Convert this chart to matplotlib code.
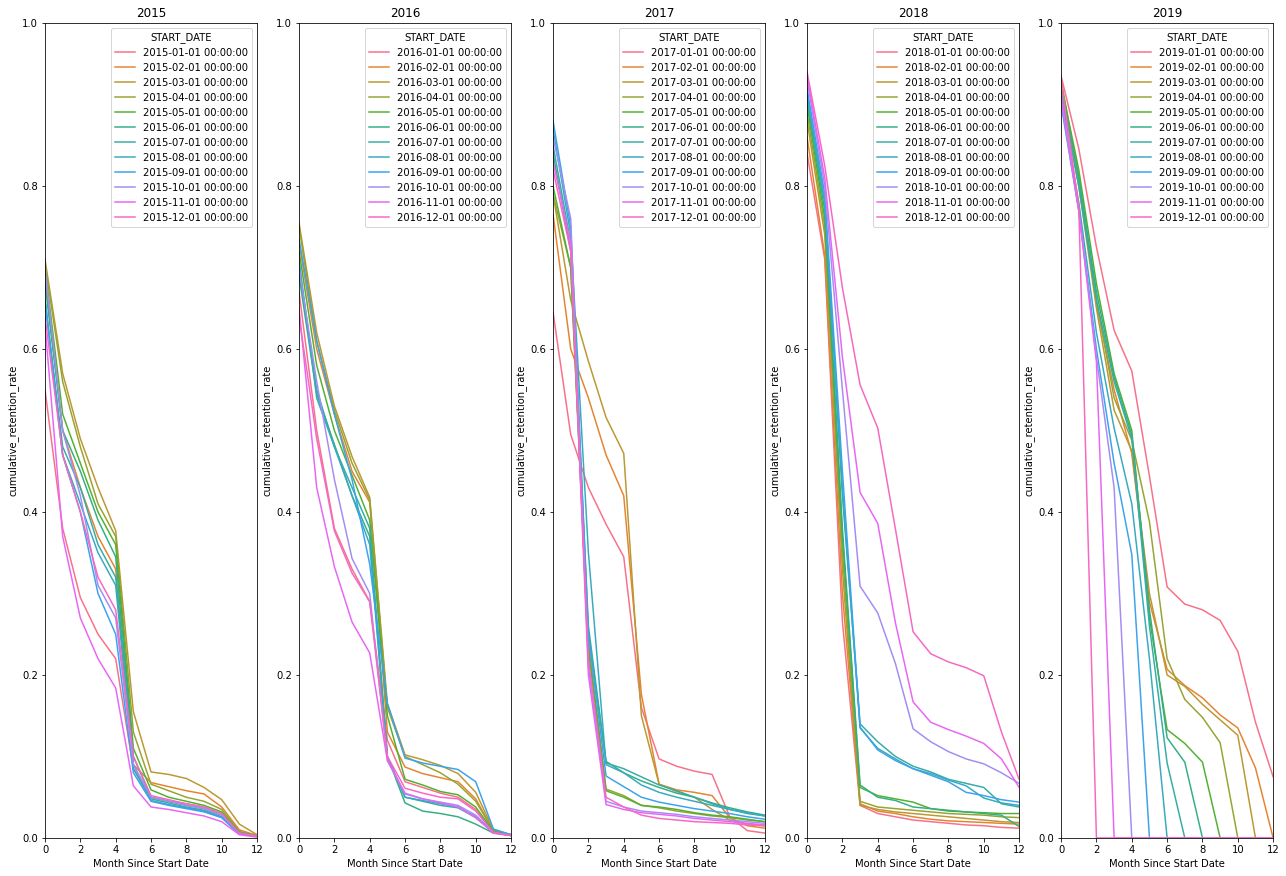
import numpy as np
import pandas as pd
import matplotlib
matplotlib.use("Agg")
import matplotlib.pyplot as plt
import seaborn as sns

years = [2015, 2016, 2017, 2018, 2019]
months = list(range(13))

# one row per start month (Jan..Dec), values for months 0..12
ret_2015 = [
    [0.55, 0.38, 0.295, 0.25, 0.22, 0.085, 0.05, 0.045, 0.042, 0.038, 0.03, 0.006, 0.002],
    [0.69, 0.50, 0.43, 0.37, 0.33, 0.09, 0.068, 0.063, 0.058, 0.054, 0.038, 0.01, 0.003],
    [0.71, 0.57, 0.49, 0.43, 0.377, 0.155, 0.081, 0.078, 0.073, 0.062, 0.047, 0.017, 0.004],
    [0.705, 0.56, 0.48, 0.41, 0.37, 0.13, 0.066, 0.058, 0.05, 0.045, 0.035, 0.008, 0.003],
    [0.70, 0.52, 0.46, 0.40, 0.36, 0.11, 0.059, 0.05, 0.045, 0.04, 0.032, 0.007, 0.002],
    [0.68, 0.50, 0.45, 0.39, 0.345, 0.10, 0.05, 0.045, 0.04, 0.036, 0.028, 0.006, 0.002],
    [0.66, 0.48, 0.43, 0.36, 0.32, 0.09, 0.048, 0.043, 0.038, 0.034, 0.026, 0.006, 0.002],
    [0.66, 0.47, 0.41, 0.35, 0.31, 0.085, 0.046, 0.041, 0.037, 0.033, 0.025, 0.005, 0.002],
    [0.66, 0.47, 0.40, 0.30, 0.25, 0.08, 0.045, 0.04, 0.036, 0.032, 0.025, 0.005, 0.002],
    [0.70, 0.50, 0.42, 0.31, 0.27, 0.09, 0.05, 0.045, 0.04, 0.036, 0.028, 0.006, 0.002],
    [0.63, 0.37, 0.27, 0.22, 0.184, 0.064, 0.038, 0.035, 0.031, 0.027, 0.02, 0.004, 0.001],
    [0.64, 0.47, 0.40, 0.32, 0.28, 0.10, 0.052, 0.047, 0.042, 0.038, 0.03, 0.006, 0.002],
]
ret_2016 = [
    [0.67, 0.50, 0.38, 0.33, 0.29, 0.12, 0.069, 0.062, 0.055, 0.05, 0.035, 0.008, 0.004],
    [0.73, 0.60, 0.52, 0.45, 0.412, 0.13, 0.087, 0.079, 0.074, 0.069, 0.048, 0.009, 0.004],
    [0.755, 0.62, 0.53, 0.468, 0.418, 0.165, 0.102, 0.096, 0.089, 0.079, 0.056, 0.01, 0.004],
    [0.75, 0.61, 0.525, 0.46, 0.415, 0.16, 0.10, 0.09, 0.08, 0.066, 0.045, 0.009, 0.004],
    [0.72, 0.58, 0.50, 0.445, 0.39, 0.15, 0.072, 0.065, 0.057, 0.053, 0.038, 0.008, 0.004],
    [0.69, 0.545, 0.483, 0.42, 0.37, 0.10, 0.043, 0.033, 0.03, 0.026, 0.017, 0.006, 0.003],
    [0.70, 0.55, 0.48, 0.43, 0.38, 0.10, 0.05, 0.045, 0.04, 0.037, 0.025, 0.007, 0.003],
    [0.71, 0.54, 0.48, 0.42, 0.36, 0.10, 0.05, 0.046, 0.042, 0.038, 0.026, 0.007, 0.003],
    [0.735, 0.61, 0.52, 0.44, 0.336, 0.165, 0.098, 0.092, 0.088, 0.084, 0.069, 0.011, 0.004],
    [0.70, 0.56, 0.44, 0.343, 0.30, 0.095, 0.054, 0.048, 0.044, 0.04, 0.028, 0.007, 0.003],
    [0.65, 0.43, 0.333, 0.265, 0.227, 0.095, 0.055, 0.048, 0.043, 0.038, 0.025, 0.006, 0.003],
    [0.64, 0.49, 0.377, 0.325, 0.29, 0.10, 0.061, 0.055, 0.05, 0.048, 0.033, 0.007, 0.003],
]
ret_2017 = [
    [0.645, 0.495, 0.43, 0.385, 0.345, 0.16, 0.097, 0.088, 0.082, 0.078, 0.026, 0.009, 0.006],
    [0.765, 0.60, 0.54, 0.47, 0.42, 0.176, 0.066, 0.059, 0.056, 0.052, 0.025, 0.015, 0.012],
    [0.79, 0.66, 0.585, 0.516, 0.472, 0.15, 0.066, 0.057, 0.05, 0.035, 0.022, 0.017, 0.015],
    [0.79, 0.70, 0.24, 0.06, 0.052, 0.04, 0.037, 0.033, 0.03, 0.027, 0.025, 0.022, 0.02],
    [0.80, 0.70, 0.23, 0.058, 0.05, 0.04, 0.038, 0.035, 0.031, 0.028, 0.026, 0.023, 0.02],
    [0.84, 0.72, 0.25, 0.094, 0.08, 0.07, 0.062, 0.055, 0.05, 0.043, 0.037, 0.032, 0.028],
    [0.85, 0.73, 0.26, 0.092, 0.085, 0.075, 0.065, 0.058, 0.05, 0.042, 0.035, 0.03, 0.027],
    [0.87, 0.74, 0.35, 0.09, 0.08, 0.065, 0.056, 0.05, 0.045, 0.04, 0.035, 0.031, 0.027],
    [0.88, 0.75, 0.25, 0.076, 0.063, 0.05, 0.044, 0.04, 0.036, 0.033, 0.03, 0.026, 0.023],
    [0.86, 0.76, 0.21, 0.045, 0.038, 0.033, 0.031, 0.029, 0.026, 0.024, 0.022, 0.02, 0.018],
    [0.83, 0.73, 0.20, 0.041, 0.035, 0.031, 0.029, 0.027, 0.024, 0.022, 0.02, 0.018, 0.016],
    [0.82, 0.72, 0.22, 0.05, 0.038, 0.028, 0.024, 0.022, 0.02, 0.019, 0.018, 0.016, 0.015],
]
ret_2018 = [
    [0.84, 0.71, 0.265, 0.04, 0.03, 0.026, 0.022, 0.02, 0.018, 0.016, 0.015, 0.013, 0.012],
    [0.86, 0.715, 0.30, 0.042, 0.033, 0.03, 0.026, 0.023, 0.021, 0.02, 0.019, 0.018, 0.017],
    [0.88, 0.74, 0.33, 0.04, 0.035, 0.032, 0.03, 0.028, 0.026, 0.024, 0.022, 0.02, 0.019],
    [0.89, 0.75, 0.35, 0.045, 0.038, 0.036, 0.034, 0.032, 0.03, 0.029, 0.028, 0.026, 0.025],
    [0.90, 0.76, 0.37, 0.062, 0.052, 0.048, 0.044, 0.036, 0.034, 0.032, 0.031, 0.03, 0.03],
    [0.905, 0.77, 0.38, 0.065, 0.05, 0.046, 0.038, 0.036, 0.033, 0.032, 0.03, 0.028, 0.014],
    [0.91, 0.78, 0.42, 0.14, 0.118, 0.10, 0.088, 0.081, 0.072, 0.067, 0.062, 0.042, 0.038],
    [0.915, 0.78, 0.43, 0.135, 0.11, 0.097, 0.085, 0.079, 0.071, 0.064, 0.049, 0.043, 0.04],
    [0.92, 0.79, 0.45, 0.136, 0.108, 0.095, 0.085, 0.077, 0.069, 0.056, 0.052, 0.047, 0.044],
    [0.93, 0.80, 0.55, 0.309, 0.276, 0.214, 0.134, 0.118, 0.106, 0.097, 0.091, 0.08, 0.067],
    [0.935, 0.81, 0.59, 0.424, 0.386, 0.264, 0.167, 0.142, 0.133, 0.125, 0.116, 0.097, 0.062],
    [0.94, 0.825, 0.675, 0.556, 0.503, 0.379, 0.253, 0.226, 0.216, 0.209, 0.199, 0.13, 0.072],
]
ret_2019 = [
    [0.935, 0.846, 0.725, 0.623, 0.573, 0.444, 0.308, 0.287, 0.28, 0.267, 0.229, 0.142, 0.075],
    [0.925, 0.81, 0.655, 0.55, 0.472, 0.29, 0.207, 0.187, 0.172, 0.151, 0.135, 0.086, 0.0],
    [0.92, 0.80, 0.65, 0.525, 0.475, 0.30, 0.20, 0.186, 0.164, 0.145, 0.126, 0.0, 0.0],
    [0.93, 0.81, 0.66, 0.54, 0.488, 0.388, 0.22, 0.17, 0.148, 0.117, 0.0, 0.0, 0.0],
    [0.925, 0.82, 0.68, 0.57, 0.50, 0.27, 0.133, 0.116, 0.093, 0.0, 0.0, 0.0, 0.0],
    [0.92, 0.81, 0.67, 0.565, 0.495, 0.28, 0.123, 0.093, 0.0, 0.0, 0.0, 0.0, 0.0],
    [0.91, 0.80, 0.66, 0.56, 0.49, 0.26, 0.092, 0.0, 0.0, 0.0, 0.0, 0.0, 0.0],
    [0.905, 0.78, 0.62, 0.503, 0.41, 0.22, 0.0, 0.0, 0.0, 0.0, 0.0, 0.0, 0.0],
    [0.90, 0.77, 0.60, 0.46, 0.348, 0.0, 0.0, 0.0, 0.0, 0.0, 0.0, 0.0, 0.0],
    [0.905, 0.77, 0.59, 0.43, 0.0, 0.0, 0.0, 0.0, 0.0, 0.0, 0.0, 0.0, 0.0],
    [0.91, 0.77, 0.584, 0.0, 0.0, 0.0, 0.0, 0.0, 0.0, 0.0, 0.0, 0.0, 0.0],
    [0.93, 0.775, 0.0, 0.0, 0.0, 0.0, 0.0, 0.0, 0.0, 0.0, 0.0, 0.0, 0.0],
]
all_ret = [ret_2015, ret_2016, ret_2017, ret_2018, ret_2019]

# reference looks like a 72 dpi render
fig, axes = plt.subplots(1, 5, figsize=(1286 / 72, 876 / 72), dpi=72)
fig.subplots_adjust(left=0.035, right=0.99, bottom=0.0434, top=0.9737, wspace=0.198)

for ax, yr, ret in zip(axes, years, all_ret):
    rows = []
    for m, vals in enumerate(ret):
        label = str(pd.Timestamp(year=yr, month=m + 1, day=1))
        for k, v in zip(months, vals):
            rows.append((label, k, v))
    df = pd.DataFrame(rows, columns=["START_DATE", "Month Since Start Date", "cumulative_retention_rate"])
    sns.lineplot(data=df, x="Month Since Start Date", y="cumulative_retention_rate",
                 hue="START_DATE", palette="husl", ax=ax)
    ax.set_xlim(0, 12)
    ax.set_ylim(0, 1)
    ax.set_xticks(range(0, 13, 2))
    ax.set_title(str(yr))
    ax.legend(title="START_DATE", loc="upper right")

plt.savefig("out.png", dpi=72)
